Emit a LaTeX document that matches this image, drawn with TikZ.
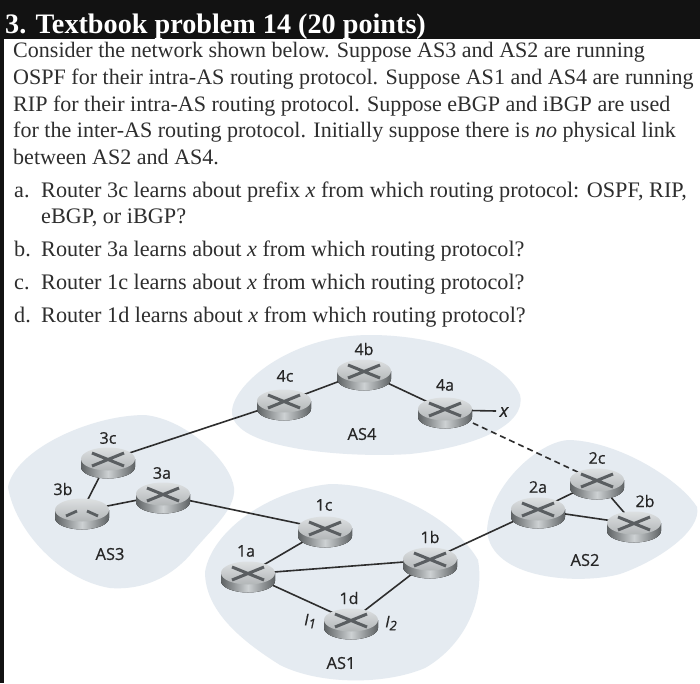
\documentclass[tikz,border=0pt]{standalone}
\usepackage{fontspec}
\setmainfont{Liberation Serif}
\setsansfont{Open Sans}
\newfontfamily\labfont[FakeBold=0.6]{Open Sans}
\usetikzlibrary{calc}
\definecolor{asblue}{HTML}{E5EBF1}
\definecolor{txt}{HTML}{2E2E2E}
\definecolor{rtop}{HTML}{D2D6D8}
\definecolor{rdark}{HTML}{5E6264}
\definecolor{rlight}{HTML}{CDD1D3}
\definecolor{xmark}{HTML}{5A5E61}
\tikzset{
 x=1pt,y=-1pt,
 qline/.style={anchor=base west,inner sep=0pt,font=\fontsize{22.05}{25}\selectfont,text=txt},
 qitem/.style={anchor=base west,inner sep=0pt,font=\fontsize{22.2}{25}\selectfont,text=txt},
 rlabel/.style={inner sep=0pt,font=\labfont\fontsize{16}{18}\selectfont,text=black!85},
 aslabel/.style={inner sep=0pt,font=\labfont\fontsize{16.5}{18}\selectfont,text=black!85},
 ifacelabel/.style={inner sep=0pt,font=\labfont\itshape\fontsize{16}{18}\selectfont,text=black!85},
 link/.style={line width=1.6pt,draw=black!82},
 rdot/.style={inner sep=0pt,minimum size=1pt},
 pics/routerbody/.style={code={
   \fill[left color=rdark,right color=rdark,middle color=rlight] (-27,-1) -- (-27,7) arc[start angle=180,end angle=0,x radius=27,y radius=11.5] -- (27,-1) -- cycle;
   \shade[top color=rtop!75!white,bottom color=rtop!85!black] (0,-1) ellipse[x radius=27,y radius=11.5];
 }},
 pics/router/.style={code={
   \pic {routerbody};
   \draw[xmark,line width=3pt] (-16,6) -- (16,-7) (-16,-7) -- (16,6);
 }},
 pics/routerfaint/.style={code={
   \pic {routerbody};
   \draw[xmark,line width=2.8pt] (-16,5) -- (-5,0) (16,5) -- (5,0);
 }}
}
\begin{document}
\begin{tikzpicture}
\useasboundingbox (0,0) rectangle (700,683);
\fill[white] (0,0) rectangle (700,683);
\fill[black!93] (0,0) rectangle (700,39);
\fill[black!93] (0,0) rectangle (4,683);
\node[anchor=base west,inner sep=0pt,text=white,font=\bfseries\fontsize{28.2}{30}\selectfont] (title) at (5,33) {3. Textbook problem 14 (20 points)};
\node[qline] (l1) at (13,57) {Consider the network shown below. Suppose AS3 and AS2 are running};
\node[qline] (l2) at (13,84) {OSPF for their intra-AS routing protocol. Suppose AS1 and AS4 are running};
\node[qline] (l3) at (13,111) {RIP for their intra-AS routing protocol. Suppose eBGP and iBGP are used};
\node[qline] (l4) at (13,137) {for the inter-AS routing protocol. Initially suppose there is \textit{no} physical link};
\node[qline] (l5) at (13,164) {between AS2 and AS4.};
\node[qitem] (am) at (14,197) {a.};
\node[qitem] (a1) at (41,197) {Router 3c learns about prefix \textit{x} from which routing protocol: OSPF, RIP,};
\node[qitem] (a2) at (41,223) {eBGP, or iBGP?};
\node[qitem] (bm) at (14,256) {b.};
\node[qitem] (b1) at (41,256) {Router 3a learns about \textit{x} from which routing protocol?};
\node[qitem] (cm) at (14,289) {c.};
\node[qitem] (c1) at (41,289) {Router 1c learns about \textit{x} from which routing protocol?};
\node[qitem] (dm) at (14,322) {d.};
\node[qitem] (d1) at (41,322) {Router 1d learns about \textit{x} from which routing protocol?};
% AS clouds
\fill[asblue] (232,412) .. controls (232,385) and (290,335) .. (370,335) .. controls (440,335) and (505,360) .. (520,395) .. controls (527,425) and (475,447) .. (410,454) .. controls (350,458) and (232,450) .. (232,412) -- cycle;
\fill[asblue] (8,487) .. controls (15,450) and (90,415) .. (145,415) .. controls (190,420) and (232,465) .. (234,488) .. controls (236,510) and (210,530) .. (190,555) .. controls (165,583) and (135,590) .. (110,588) .. controls (60,580) and (15,530) .. (8,487) -- cycle;
\fill[asblue] (205,572) .. controls (212,530) and (270,490) .. (330,484) .. controls (390,484) and (455,520) .. (478,560) .. controls (485,600) and (465,645) .. (425,668) .. controls (385,685) and (320,685) .. (280,665) .. controls (240,640) and (205,610) .. (205,572) -- cycle;
\fill[asblue] (487,530) .. controls (490,485) and (540,440) .. (570,440) .. controls (620,442) and (680,480) .. (697,507) .. controls (702,530) and (660,560) .. (620,574) .. controls (580,585) and (490,580) .. (487,530) -- cycle;
% router anchors
\node[rdot] (r4b) at (364,372) {};
\node[rdot] (r4c) at (284,402) {};
\node[rdot] (r4a) at (445,410) {};
\node[rdot] (r3c) at (108,460) {};
\node[rdot] (r3b) at (82,511) {};
\node[rdot] (r3a) at (163,495) {};
\node[rdot] (r1c) at (325,529) {};
\node[rdot] (r1a) at (248,574) {};
\node[rdot] (r1b) at (430,560) {};
\node[rdot] (r1d) at (351,621) {};
\node[rdot] (r2c) at (597,481) {};
\node[rdot] (r2a) at (538,510) {};
\node[rdot] (r2b) at (634,524) {};
\coordinate (xend) at (496,411);
% links
\draw[link] (r3c) -- (r4c);
\draw[link] (r4c) -- (r4b);
\draw[link] (r4b) -- (r4a);
\draw[link] (r4a) -- (xend);
\draw[link,dash pattern=on 6pt off 4pt] (r4a) -- (r2c);
\draw[link] (r3c) -- (r3b);
\draw[link] (r3b) -- (r3a);
\draw[link] (r3a) -- (r1c);
\draw[link] (r1c) -- (r1a);
\draw[link] (r1a) -- (r1b);
\draw[link] (r1a) -- (r1d);
\draw[link] (r1d) -- (r1b);
\draw[link] (r1b) -- (r2a);
\draw[link] (r2a) -- (r2c);
\draw[link] (r2c) -- (r2b);
\draw[link] (r2a) -- (r2b);
% routers
\foreach \r in {r4b,r4c,r4a,r3c,r3a,r1c,r1a,r1b,r1d,r2c,r2a,r2b}{
 \pic at (\r) {router};
}
\pic at (r3b) {routerfaint};
% labels
\node[rlabel] (t4b) at (364,349) {4b};
\node[rlabel] (t4c) at (285,376) {4c};
\node[rlabel] (t4a) at (445,385) {4a};
\node[ifacelabel,font=\labfont\itshape\fontsize{18}{19}\selectfont] (tx) at (504,412) {x};
\node[aslabel] (as4) at (362,434) {AS4};
\node[rlabel] (t3c) at (108,438) {3c};
\node[rlabel] (t3b) at (63,489) {3b};
\node[rlabel] (t3a) at (162,473) {3a};
\node[aslabel] (as3) at (110,554) {AS3};
\node[rlabel] (t1c) at (324,505) {1c};
\node[rlabel] (t1a) at (246,551) {1a};
\node[rlabel] (t1b) at (430,537) {1b};
\node[rlabel] (t1d) at (349,598) {1d};
\node[ifacelabel] (ti1) at (310,621) {I{\fontsize{13}{14}\selectfont\raisebox{-3pt}{1}}};
\node[ifacelabel] (ti2) at (391,623) {I{\fontsize{13}{14}\selectfont\raisebox{-3pt}{2}}};
\node[aslabel] (as1) at (341,663) {AS1};
\node[rlabel] (t2c) at (597,458) {2c};
\node[rlabel] (t2a) at (538,487) {2a};
\node[rlabel] (t2b) at (645,501) {2b};
\node[aslabel] (as2) at (585,560) {AS2};
\end{tikzpicture}
\end{document}
